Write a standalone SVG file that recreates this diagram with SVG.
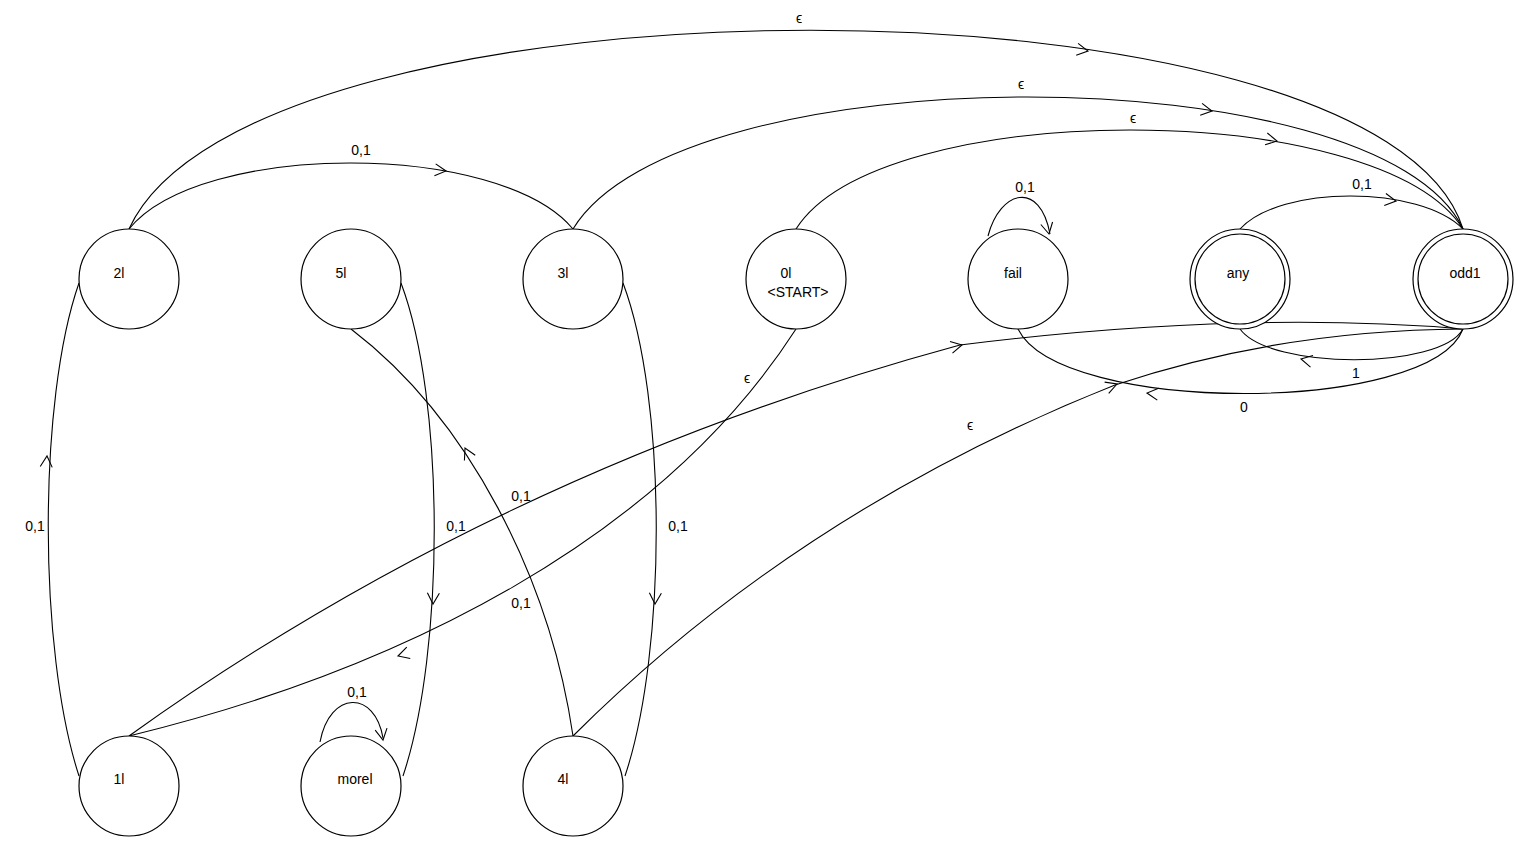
<svg xmlns="http://www.w3.org/2000/svg" width="1518" height="852" viewBox="0 0 1518 852">
<style>
.n{fill:#fff;stroke:#000;stroke-width:1.2}
.e{fill:none;stroke:#000;stroke-width:1.1}
text{font-family:"Liberation Sans",Arial,sans-serif;font-size:14px;fill:#000;text-anchor:middle}
</style>
<defs><path id="ah" d="M-11,-6 L0,0 L-11,6" fill="none" stroke="#000" stroke-width="1.1"/></defs>
<rect width="1518" height="852" fill="#fff"/>
<g id="connectors">
<path class="e" d="M129,229 C250,-36 1380,-36 1463,229"/>
<path class="e" d="M573,229 C680,53 1380,53 1463,229"/>
<path class="e" d="M796,229 C880,97 1380,97 1463,229"/>
<path class="e" d="M129,229 C200,141 500,141 573,229"/>
<path class="e" d="M988,236 C1000,190 1040,180 1050,234"/>
<path class="e" d="M1240,229 C1280,185 1420,185 1463,229"/>
<path class="e" d="M1463,329 C1440,370 1270,370 1240,329"/>
<path class="e" d="M1463,329 C1430,415 1060,415 1018,329"/>
<path class="e" d="M129,736 Q500,470 960,345 Q1240,310 1463,329"/>
<path class="e" d="M796,329 C660,540 400,670 129,736"/>
<path class="e" d="M573,736 Q800,510 1115,385 Q1280,330 1463,329"/>
<path class="e" d="M573,736 C550,580 470,420 351,329"/>
<path class="e" d="M401,283 C445,400 445,650 403,776"/>
<path class="e" d="M623,283 C667,400 667,650 625,776"/>
<path class="e" d="M79,776 C38,650 38,400 79,283"/>
<path class="e" d="M320,742 C330,690 375,690 383,738"/>
<use href="#ah" transform="translate(1088,51) rotate(9)"/>
<use href="#ah" transform="translate(1212,111) rotate(9)"/>
<use href="#ah" transform="translate(1277,141) rotate(11)"/>
<use href="#ah" transform="translate(446,171) rotate(6)"/>
<use href="#ah" transform="translate(1049,234) rotate(78)"/>
<use href="#ah" transform="translate(1396,201) rotate(8)"/>
<use href="#ah" transform="translate(1301,359) rotate(192)"/>
<use href="#ah" transform="translate(1147,393) rotate(186)"/>
<use href="#ah" transform="translate(962,345) rotate(-12)"/>
<use href="#ah" transform="translate(398,656) rotate(163)"/>
<use href="#ah" transform="translate(1117,384) rotate(-20)"/>
<use href="#ah" transform="translate(465,448) rotate(-116)"/>
<use href="#ah" transform="translate(433,604) rotate(92)"/>
<use href="#ah" transform="translate(655,604) rotate(92)"/>
<use href="#ah" transform="translate(47,456) rotate(-86)"/>
<use href="#ah" transform="translate(383,740) rotate(80)"/>
<text x="799" y="23">ϵ</text>
<text x="1021" y="89">ϵ</text>
<text x="1133" y="123">ϵ</text>
<text x="361" y="155">0,1</text>
<text x="1025" y="192">0,1</text>
<text x="1362" y="189">0,1</text>
<text x="1356" y="378">1</text>
<text x="1244" y="412">0</text>
<text x="747" y="383">ϵ</text>
<text x="970" y="430">ϵ</text>
<text x="521" y="501">0,1</text>
<text x="456" y="531">0,1</text>
<text x="678" y="531">0,1</text>
<text x="35" y="531">0,1</text>
<text x="521" y="608">0,1</text>
<text x="357" y="697">0,1</text>
</g>
<g id="n2l"><circle class="n" cx="129" cy="279" r="50"/><text x="119" y="278">2l</text></g>
<g id="n5l"><circle class="n" cx="351" cy="279" r="50"/><text x="341" y="278">5l</text></g>
<g id="n3l"><circle class="n" cx="573" cy="279" r="50"/><text x="563" y="278">3l</text></g>
<g id="n0l"><circle class="n" cx="796" cy="279" r="50"/><text x="786" y="278">0l</text><text x="798" y="297">&lt;START&gt;</text></g>
<g id="nfail"><circle class="n" cx="1018" cy="279" r="50"/><text x="1013" y="278">fail</text></g>
<g id="nany"><circle class="n" cx="1240" cy="279" r="50"/><circle class="n" cx="1240" cy="279" r="45"/><text x="1238" y="278">any</text></g>
<g id="nodd1"><circle class="n" cx="1463" cy="279" r="50"/><circle class="n" cx="1463" cy="279" r="45"/><text x="1465" y="278">odd1</text></g>
<g id="n1l"><circle class="n" cx="129" cy="786" r="50"/><text x="119" y="784">1l</text></g>
<g id="nmorel"><circle class="n" cx="351" cy="786" r="50"/><text x="355" y="784">morel</text></g>
<g id="n4l"><circle class="n" cx="573" cy="786" r="50"/><text x="563" y="784">4l</text></g>
</svg>
